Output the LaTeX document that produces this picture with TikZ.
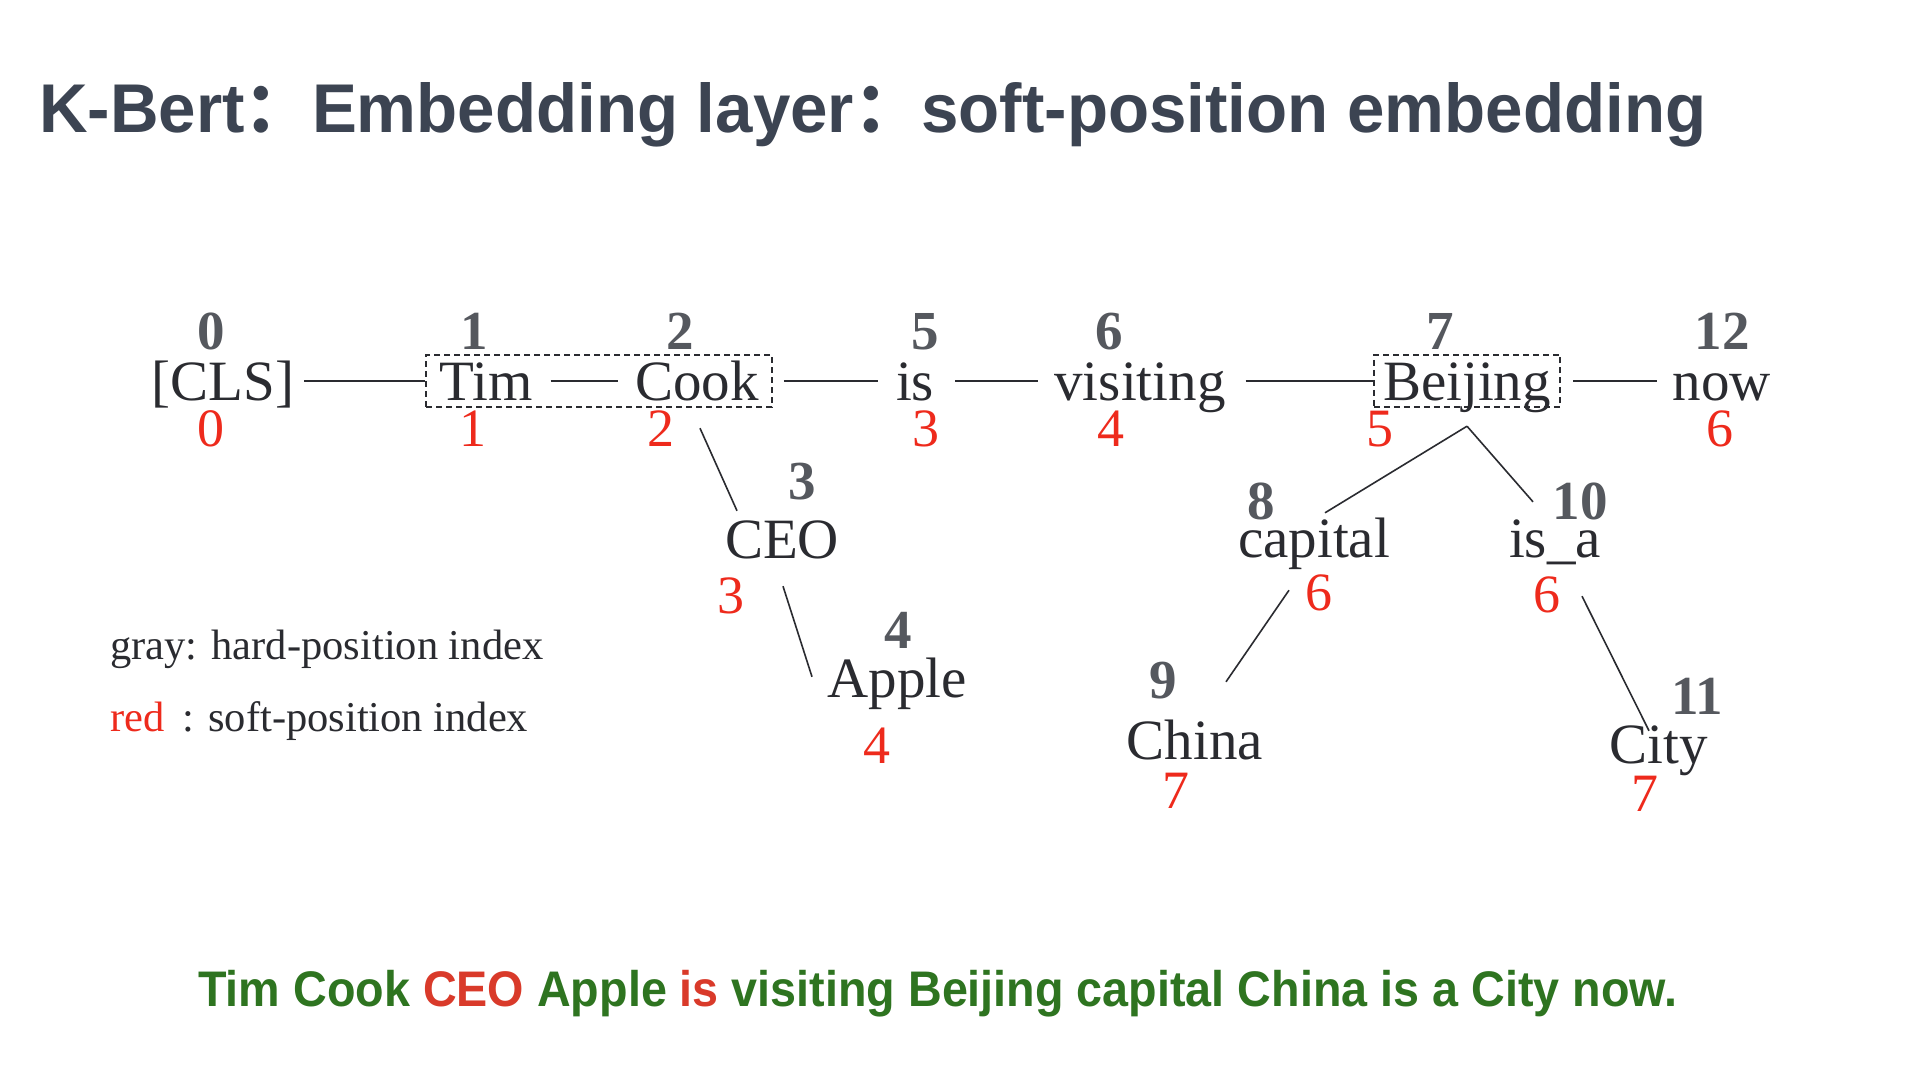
\documentclass[tikz,border=0pt]{standalone}
\usepackage{graphicx}
\usepackage{fontspec}
\setmainfont{Liberation Serif}
\newfontfamily\sansfont{Liberation Sans}
\newfontfamily\cjkfont{Noto Sans CJK SC}
\usetikzlibrary{fit}
\definecolor{titlec}{HTML}{3C4452}
\definecolor{wordc}{HTML}{2A2B30}
\definecolor{hardc}{HTML}{55585E}
\definecolor{softc}{HTML}{EE2A1C}
\definecolor{linec}{HTML}{2A2B30}
\definecolor{greenc}{HTML}{2E7420}
\definecolor{redc}{HTML}{D93A2A}
\tikzset{
  word/.style={font=\fontsize{57}{60}\selectfont, text=wordc, inner sep=0pt, anchor=base, text height=41pt, text depth=3pt},
  hard/.style={font=\bfseries\fontsize{55}{57}\selectfont, text=hardc, inner sep=0pt, anchor=base},
  soft/.style={font=\fontsize{54}{56}\selectfont, text=softc, inner sep=0pt, anchor=base},
  legend/.style={font=\fontsize{42.5}{45}\selectfont, text=wordc, inner sep=0pt, anchor=base west},
  link/.style={line width=1.6pt, draw=linec},
  groupbox/.style={draw=linec, dash pattern=on 6pt off 4pt, line width=2pt, inner xsep=10pt, inner ysep=4pt}
}
\begin{document}
\begin{tikzpicture}[x=1pt, y=-1pt]
\useasboundingbox (0,0) rectangle (1920,1080);
\fill[white] (0,0) rectangle (1920,1080);

% title
\node[anchor=base west, inner sep=0pt, text=titlec, font=\sansfont\bfseries\fontsize{69}{72}\selectfont] (title) at (39,132)
  {\scalebox{0.975}[1]{K-Bert{\cjkfont\bfseries ：}Embedding layer{\cjkfont\bfseries ：}soft-position embedding}};

% main row words
\node[word] (cls) at (223,400) {[CLS]};
\node[word] (tim) at (486,400) {Tim};
\node[word] (cook) at (697,400) {Cook};
\node[word] (is) at (915,400) {is};
\node[word] (visiting) at (1140,400) {visiting};
\node[word] (beijing) at (1467,400) {Beijing};
\node[word] (now) at (1722,400) {now};

% branch words
\node[word] (ceo) at (782,558) {CEO};
\node[word] (apple) at (897,697) {Apple};
\node[word] (capital) at (1314,557) {capital};
\node[word] (isa) at (1555,557) {is\_a};
\node[word] (china) at (1195,759) {China};
\node[word] (city) at (1659,763) {City};

% dashed group boxes
\node[groupbox, inner xsep=13pt, fit=(tim)(cook)] (tcbox) {};
\node[groupbox, inner xsep=9pt, fit=(beijing)] (bjbox) {};

% hard-position indices (gray)
\node[hard] (h0) at (211,349) {0};
\node[hard] (h1) at (474,349) {1};
\node[hard] (h2) at (680,349) {2};
\node[hard] (h5) at (925,349) {5};
\node[hard] (h6) at (1109,349) {6};
\node[hard] (h7) at (1440,349) {7};
\node[hard] (h12) at (1722,349) {12};
\node[hard] (h3) at (802,499) {3};
\node[hard] (h4) at (898,648) {4};
\node[hard] (h8) at (1261,519) {8};
\node[hard] (h10) at (1580,519) {10};
\node[hard] (h9) at (1163,698) {9};
\node[hard] (h11) at (1697,714) {11};

% soft-position indices (red)
\node[soft] (s0) at (211,446) {0};
\node[soft] (s1) at (473,446) {1};
\node[soft] (s2) at (661,446) {2};
\node[soft] (s3) at (926,446) {3};
\node[soft] (s4) at (1111,446) {4};
\node[soft] (s5) at (1380,446) {5};
\node[soft] (s6) at (1720,446) {6};
\node[soft] (s3b) at (731,613) {3};
\node[soft] (s4b) at (877,763) {4};
\node[soft] (s6a) at (1319,610) {6};
\node[soft] (s6b) at (1547,612) {6};
\node[soft] (s7a) at (1176,808) {7};
\node[soft] (s7b) at (1645,811) {7};

% horizontal connectors
\draw[link, shorten <=10pt] (cls.east) -- (tcbox.west);
\draw[link, shorten <=18pt, shorten >=17pt] (tim.east) -- (cook.west);
\draw[link, shorten <=11pt, shorten >=18pt] (tcbox.east) -- (is.west);
\draw[link, shorten <=21pt, shorten >=16pt] (is.east) -- (visiting.west);
\draw[link, shorten <=20pt] (visiting.east) -- (bjbox.west);
\draw[link, shorten <=12pt, shorten >=16pt] (bjbox.east) -- (now.west);

% branch connectors
\draw[link] ([xshift=3pt,yshift=-25pt]cook.south) -- ([xshift=-45pt,yshift=6pt]ceo.north);
\draw[link] ([xshift=1pt,yshift=-25pt]ceo.south) -- ([xshift=-85pt,yshift=-21pt]apple.north);
\draw[link] ([yshift=-18pt]bjbox.south) -- ([xshift=11pt,yshift=3pt]capital.north);
\draw[link] ([yshift=-18pt]bjbox.south) -- ([xshift=-22pt,yshift=14pt]isa.north);
\draw[link] ([xshift=-25pt,yshift=-30pt]capital.south) -- ([xshift=31pt,yshift=36pt]china.north);
\draw[link] ([xshift=27pt,yshift=-36pt]isa.south) -- ([xshift=-10pt,yshift=-9pt]city.north);

% legend
\node[legend] (leg1) at (110,659) {gray: hard-position index};
\node[legend] (leg2) at (110,731) {\textcolor{softc}{red}\hspace{0.42em}: soft-position index};

% bottom sentence
\node[anchor=base west, inner sep=0pt, text=greenc, font=\sansfont\bfseries\fontsize{50}{54}\selectfont] (sentence) at (198,1006)
  {\scalebox{0.934}[1]{Tim Cook \textcolor{redc}{CEO} Apple \textcolor{redc}{is} visiting Beijing capital China is a City now.}};
\end{tikzpicture}
\end{document}
